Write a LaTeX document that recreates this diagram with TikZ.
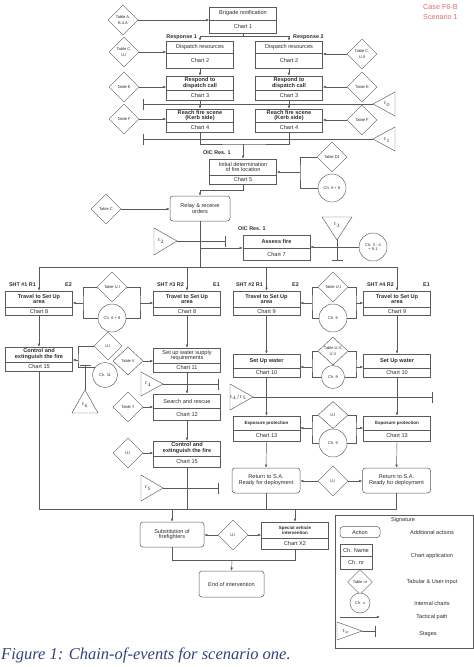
\documentclass[tikz,border=0pt]{standalone}
\usepackage{fontspec}
\setmainfont{Liberation Sans}
\newfontfamily\capfont{Liberation Serif}
\usetikzlibrary{shapes.geometric,arrows.meta}

\definecolor{linec}{HTML}{5A5A5A}
\definecolor{txtc}{HTML}{2E2E2E}
\definecolor{casec}{HTML}{E06A6A}
\definecolor{capc}{HTML}{34427C}

\newcommand\boxfont{\fontsize{5.6}{5.9}\selectfont}
\newcommand\tabfont{\fontsize{4}{4.8}\selectfont}
\newcommand\hdrfont{\fontsize{5.4}{6}\selectfont\bfseries}

\tikzset{
  wire/.style={draw=linec, line width=0.45pt},
  arr/.style={wire, -{Latex[length=3.2pt,width=2.6pt]}},
  stage/.style={wire, -{Bar[width=11pt]}},
  chart/.style={draw=linec, line width=0.5pt, fill=white, minimum width=67pt, inner sep=0pt},
  act/.style={draw=linec, line width=0.5pt, rounded corners=3pt, fill=white, align=center, font=\boxfont, text=txtc, inner sep=0pt},
  tab/.style={diamond, draw=linec, line width=0.45pt, fill=white, minimum width=30pt, minimum height=30pt, inner sep=0pt, align=center, font=\tabfont, text=txtc},
  chc/.style={circle, draw=linec, line width=0.45pt, fill=white, minimum size=28pt, inner sep=0pt, align=center, font=\tabfont, text=txtc},
  txt/.style={font=\boxfont, text=txtc, align=center, inner sep=0pt},
  hdr/.style={font=\hdrfont, text=txtc, inner sep=0pt},
  tri/.style={draw=linec, line width=0.45pt, fill=white},
  tlab/.style={font=\fontsize{4.6}{5}\selectfont, text=txtc, inner sep=0pt},
  bold/.style={font=\boxfont\bfseries},
  small bold/.style={font=\fontsize{4.5}{5.2}\selectfont\bfseries},
}

% chart box: [top text style]{name}{x}{top}{bottom}{divider}{text}{chart}
\newcommand\chartbox[8][]{%
  \node[chart, minimum height={(#5-#4)*1pt}] (#2) at (#3,{(#4+#5)/2}) {};
  \draw[wire] ([xshift=-33.5pt]#3,#6) -- ([xshift=33.5pt]#3,#6);
  \node[txt, #1] (#2-t) at (#3,{(#4+#6)/2}) {#7};
  \node[txt] (#2-c) at (#3,{(#6+#5)/2}) {#8};
}
% stage triangle: {name}{apex}{to first corner}{to second corner}{label at}{label}
\newcommand\stagetri[6]{%
  \draw[tri] (#2) coordinate (#1) -- ++(#3) -- ++(#4) -- cycle;
  \node[tlab] (#1-l) at (#5) {#6};
}

\begin{document}
\begin{tikzpicture}[x=1pt,y=-1pt]
\useasboundingbox (0,0) rectangle (474,667);

\node[font=\fontsize{7.2}{10.5}\selectfont, text=casec, align=left, anchor=north west, inner sep=0] (case) at (423,4) {Case F6-B\\Scenario 1};

% notification and response
\chartbox{c1}{243}{7}{33}{20}{Brigade notification}{Chart 1}
\node[tab] (dA) at (123,20) {Table A,\\[1pt]B.4.A};
\chartbox{c2a}{200}{41}{68}{53}{Dispatch resources}{Chart 2}
\chartbox{c2b}{289}{41}{68}{53}{Dispatch resources}{Chart 2}
\node[hdr, anchor=east] (r1) at (197,37) {Response 1};
\node[hdr, anchor=west] (r2) at (293,37) {Response 2};
\node[tab] (dC1) at (124,52) {Table C,\\[1pt]U.I};
\node[tab] (dC2) at (362,54) {Table C,\\[1pt]U.II};
\chartbox[bold]{c3a}{200}{76}{100}{90}{Respond to\\dispatch call}{Chart 3}
\chartbox[bold]{c3b}{289}{76}{100}{90}{Respond to\\dispatch call}{Chart 3}
\node[tab] (dE1) at (124,87) {Table E};
\node[tab] (dE2) at (362,87) {Table E};
\chartbox[bold]{c4a}{200}{109}{132}{122}{Reach fire scene\\(Kerb side)}{Chart 4}
\chartbox[bold]{c4b}{289}{109}{132}{122}{Reach fire scene\\(Kerb side)}{Chart 4}
\node[tab] (dF1) at (124,119) {Table F};
\node[tab] (dF2) at (362,120) {Table F};
\stagetri{t0}{373,104}{22,-12}{0,24}{387,104}{$t_0$}
\stagetri{t1}{373,139}{22,-12}{0,24}{387,140}{$t_1$}

\coordinate (resp) at (243,36);
\draw[wire] (c1.south) -- (resp);
\draw[wire] (resp -| c2a.north) -- (resp -| c2b.north);
\draw[arr] (dA.east) -- (c1.west);
\draw[arr] (resp -| c2a.north) -- (c2a.north);
\draw[arr] (resp -| c2b.north) -- (c2b.north);
\draw[arr] (dC1.east) -- (dC1.east -| c2a.west);
\draw[arr] (dC2.west) -- (dC2.west -| c2b.east);
\draw[arr] (c2a.south) -- (c3a.north);
\draw[arr] (c2b.south) -- (c3b.north);
\draw[arr] (dE1.east) -- (dE1.east -| c3a.west);
\draw[arr] (dE2.west) -- (dE2.west -| c3b.east);
\draw[stage] (t0) -- (143,104);
\draw[arr] (c3a.south) -- (c4a.north);
\draw[arr] (c3b.south) -- (c4b.north);
\draw[arr] (dF1.east) -- (dF1.east -| c4a.west);
\draw[arr] (dF2.west) -- (dF2.west -| c4b.east);
\draw[stage] (t1) -- (143,139);

% OIC
\node[hdr, anchor=west] (oic1) at (203,153) {OIC Res. 1};
\chartbox{c5}{243}{159}{184}{175}{Initial determination\\of fire location}{Chart 5}
\node[tab] (dD) at (332,157) {Table D1};
\node[chc] (ch1) at (332,188) {Ch. 6 + 8};
\node[act, minimum width=60pt, minimum height=25pt] (relay) at (200,208.5) {Relay \& receive\\orders};
\node[tab] (dCc) at (106,209) {Table C};
\stagetri{t2}{177,241}{-23,-13}{0,27}{161,241}{$t_2$}
\node[hdr, anchor=west] (oic2) at (238,229) {OIC Res. 1};
\chartbox[bold]{c7}{276.5}{235}{260}{248}{Assess fire}{Chart 7}
\stagetri{t3}{337,240}{-15,-23}{30,0}{337,225}{$t_3$}
\node[chc] (ch3) at (373,247) {Ch. 3 - 4\\+ 9.1};

\coordinate (m5) at (243,144);
\draw[wire] (c4a.south) |- (m5) -| (c4b.south);
\draw[arr] (m5) -- (c5.north);
\coordinate (bD) at (300,172);
\draw[wire] (dD.west) -| (bD) |- (ch1.west);
\draw[arr] (bD) -- (bD -| c5.east);
\draw[arr] (c5.south) -- ++(0,6) -| (relay.north);
\draw[arr] (dCc.east) -- (dCc.east -| relay.west);
\coordinate (dist) at (200,267);
\coordinate (r7) at (200,248);
\draw[wire] (relay.south) -- (dist);
\draw[arr] (r7) -- (r7 -| c7.west);
\draw[stage] (t2) -- (225,241);
\draw[stage] (t3) -- (337,260);
\draw[arr] (ch3.west) -- (ch3.west -| c7.east);

% sector heads
\chartbox[bold]{c8a}{39}{291}{315}{307}{Travel to Set Up\\area}{Chart 8}
\chartbox[bold]{c8b}{187}{291}{315}{307}{Travel to Set Up\\area}{Chart 8}
\chartbox[bold]{c9a}{266.5}{291}{315}{307}{Travel to Set Up\\area}{Chart 9}
\chartbox[bold]{c9b}{397}{291}{315}{307}{Travel to Set Up\\area}{Chart 9}
\node[hdr, anchor=east] (s1) at (36,285) {SHT \#1 R1};
\node[hdr, anchor=east] (s1e) at (72,285) {E2};
\node[hdr, anchor=east] (s3) at (184,285) {SHT \#3 R2};
\node[hdr, anchor=east] (s3e) at (220,285) {E1};
\node[hdr, anchor=east] (s2) at (263,285) {SHT \#2 R1};
\node[hdr, anchor=east] (s2e) at (299,285) {E2};
\node[hdr, anchor=east] (s4) at (394,285) {SHT \#4 R2};
\node[hdr, anchor=east] (s4e) at (430,285) {E1};
\node[tab] (dU1) at (112,287) {Table U.I};
\node[chc] (ch2) at (112,318) {Ch. 6 + 8};
\node[tab] (dU2) at (333,287) {Table U.I};
\node[chc] (ch4) at (333,318) {Ch. 6};

\draw[wire] (dist -| c8a.north) -- (dist -| c9b.north);
\foreach \n in {c8a,c8b,c9a,c9b}
  \draw[arr] (dist -| \n.north) -- (\n.north);
\coordinate (bU1l) at (83,303);
\coordinate (bU1r) at (140,303);
\draw[wire] (dU1.west) -| (bU1l) |- (ch2.west);
\draw[wire] (dU1.east) -| (bU1r) |- (ch2.east);
\draw[arr] (bU1l) -- (bU1l -| c8a.east);
\draw[arr] (bU1r) -- (bU1r -| c8b.west);
\coordinate (bU2l) at (312,303);
\coordinate (bU2r) at (356,303);
\draw[wire] (dU2.west) -| (bU2l) |- (ch4.west);
\draw[wire] (dU2.east) -| (bU2r) |- (ch4.east);
\draw[arr] (bU2l) -- (bU2l -| c9a.east);
\draw[arr] (bU2r) -- (bU2r -| c9b.west);

% left columns
\chartbox[bold]{c15a}{39}{347}{371}{362}{Control and\\extinguish the fire}{Chart 15}
\node[tab, minimum width=28pt, minimum height=28pt] (dUa) at (108,346) {U.I};
\node[chc, minimum size=25pt] (ch11) at (105,375) {Ch. 11};
\stagetri{t5}{85,390}{-13,23}{26,0}{85,405}{$t_6$}
\chartbox{c11}{187}{348}{372}{363}{Set up water supply\\requirements}{Chart 11}
\node[tab, minimum height=28pt] (dV) at (128,361) {Table V};
\stagetri{t4}{163,384}{-22,-12}{0,24}{148,384}{$t_4$}
\chartbox{c12}{187}{394}{420}{408}{Search and rescue}{Chart 12}
\node[tab] (dY) at (128,407) {Table Y};
\chartbox[bold]{c15b}{187}{441}{467}{456}{Control and\\extinguish the fire}{Chart 15}
\node[tab] (dUb) at (128,453) {U.I};
\stagetri{t6}{163,488}{-22,-13}{0,26}{148,488}{$t_5$}

\draw[arr] (c8a.south) -- (c15a.north);
\coordinate (bUa) at (78,360);
\draw[wire] (dUa.west) -| (bUa) |- (ch11.145);
\draw[arr] (bUa) -- (bUa -| c15a.east);
\draw[stage] (t5) -- (85,365);
\draw[arr] (c8b.south) -- (c11.north);
\draw[arr] (dV.east) -- (dV.east -| c11.west);
\draw[stage] (t4) -- (218,384);
\draw[arr] (c11.south) -- (c12.north);
\draw[arr] (dY.east) -- (dY.east -| c12.west);
\draw[arr] (c12.south) -- (c15b.north);
\draw[arr] (dUb.east) -- (dUb.east -| c15b.west);
\draw[stage] (t6) -- (218,488);

% right columns
\chartbox[bold]{c10a}{266.5}{354}{377}{368}{Set Up water}{Chart 10}
\chartbox[bold]{c10b}{397}{354}{377}{368}{Set Up water}{Chart 10}
\node[tab, minimum height=28pt] (dUc) at (333,351) {Table U.II,\\[1pt]U.V};
\node[chc, minimum size=23pt] (ch9a) at (333,377) {Ch. 9};
\stagetri{t7}{253,397}{-23,-13}{0,26}{238,397}{$t_4/t_5$}
\chartbox[small bold]{c13a}{266.5}{416}{441}{430}{Exposure protection}{Chart 13}
\chartbox[small bold]{c13b}{397}{416}{441}{430}{Exposure protection}{Chart 13}
\node[tab, minimum height=27pt] (dUd) at (333,415) {U.I};
\node[chc] (ch9b) at (333,443) {Ch. 9};
\node[act, minimum width=68pt, minimum height=25pt] (ret3) at (266,480.5) {Return to S.A.\\Ready for deployment};
\node[act, minimum width=68pt, minimum height=25pt] (ret4) at (396.5,480.5) {Return to S.A.\\Ready for deployment};
\node[tab] (dUe) at (333,481) {U.I};

\draw[arr] (c9a.south) -- (c10a.north);
\draw[arr] (c9b.south) -- (c10b.north);
\coordinate (bU3l) at (312,367);
\coordinate (bU3r) at (356,367);
\draw[wire] (dUc.west) -| (bU3l) |- (ch9a.west);
\draw[wire] (dUc.east) -| (bU3r) |- (ch9a.east);
\draw[arr] (bU3l) -- (bU3l -| c10a.east);
\draw[arr] (bU3r) -- (bU3r -| c10b.west);
\draw[stage] (t7) -- (432,397);
\draw[arr] (c10a.south) -- (c13a.north);
\draw[arr] (c10b.south) -- (c13b.north);
\coordinate (bU4l) at (312,428);
\coordinate (bU4r) at (356,428);
\draw[wire] (dUd.west) -| (bU4l) |- (ch9b.west);
\draw[wire] (dUd.east) -| (bU4r) |- (ch9b.east);
\draw[arr] (bU4l) -- (bU4l -| c13a.east);
\draw[arr] (bU4r) -- (bU4r -| c13b.west);
\draw[arr] (c13a.south) -- (ret3.north);
\draw[arr] (c13b.south) -- (ret4.north);
\draw[arr] (dUe.west) -- (dUe.west -| ret3.east);
\draw[arr] (dUe.east) -- (dUe.east -| ret4.west);

% end
\node[act, minimum width=64pt, minimum height=25pt] (subst) at (172,534.5) {Substitution of\\firefighters};
\node[tab] (dUf) at (233,535) {U.I};
\chartbox[small bold]{cx2}{295}{522}{549}{538}{Special vehicle\\intervention}{Chart X2}
\node[act, minimum width=65pt, minimum height=26pt] (endi) at (231.5,584) {End of intervention};

\coordinate (coll) at (200,509);
\draw[wire] (coll -| c15a.south) -- (coll -| ret4.south);
\foreach \n in {c15a,c15b,ret3,ret4}
  \draw[wire] (\n.south) -- (coll -| \n.south);
\draw[arr] (coll -| subst.north) -- (subst.north);
\draw[arr] (coll -| cx2.north) -- (cx2.north);
\draw[arr] (dUf.west) -- (dUf.west -| subst.east);
\draw[arr] (dUf.east) -- (dUf.east -| cx2.west);
\coordinate (fin) at (232,560);
\draw[wire] (subst.south) |- (fin -| cx2.south) -- (cx2.south);
\draw[arr] (fin) -- (endi.north);

% signature
\node[draw=linec, line width=0.6pt, minimum width=138pt, minimum height=133pt, inner sep=0] (sig) at (404,581.5) {};
\node[txt] (sigt) at (403,520.5) {Signature};
\node[act, minimum width=40pt, minimum height=11pt] (lact) at (360,532) {Action};
\node[txt] (lact-d) at (432,532) {Additional actions};
\node[chart, minimum width=32pt, minimum height=25pt, line width=0.9pt] (lch) at (356,556.5) {};
\draw[wire] (lch.west) -- (lch.east);
\node[txt] (lch-t) at (356,550.5) {Ch. Name};
\node[txt] (lch-c) at (356,562.5) {Ch. nr};
\node[txt] (lch-d) at (432,556) {Chart application};
\node[tab, minimum width=25pt, minimum height=25pt] (ltab) at (360,582) {Table nr};
\node[txt] (ltab-d) at (432,582) {Tabular \& User input};
\node[chc, minimum size=20pt] (lchc) at (360,603) {Ch. x};
\node[txt] (lchc-d) at (432,603) {Internal charts};
\coordinate (lp1) at (340,617);
\coordinate (lp2) at (380,617);
\draw[arr] (lp1) -- (lp2);
\node[txt] (lp-d) at (432,617) {Tactical path};
\stagetri{lst}{362,631}{-25,-9}{0,18}{346,631}{$t_x$}
\draw[stage] (lst) -- (375,631);
\node[txt] (lst-d) at (428,634) {Stages};

\node[font=\capfont\itshape\fontsize{16.5}{19}\selectfont, text=capc, anchor=base west, inner sep=0] (cap) at (1,659) {Figure 1: Chain-of-events for scenario one.};
\end{tikzpicture}
\end{document}
